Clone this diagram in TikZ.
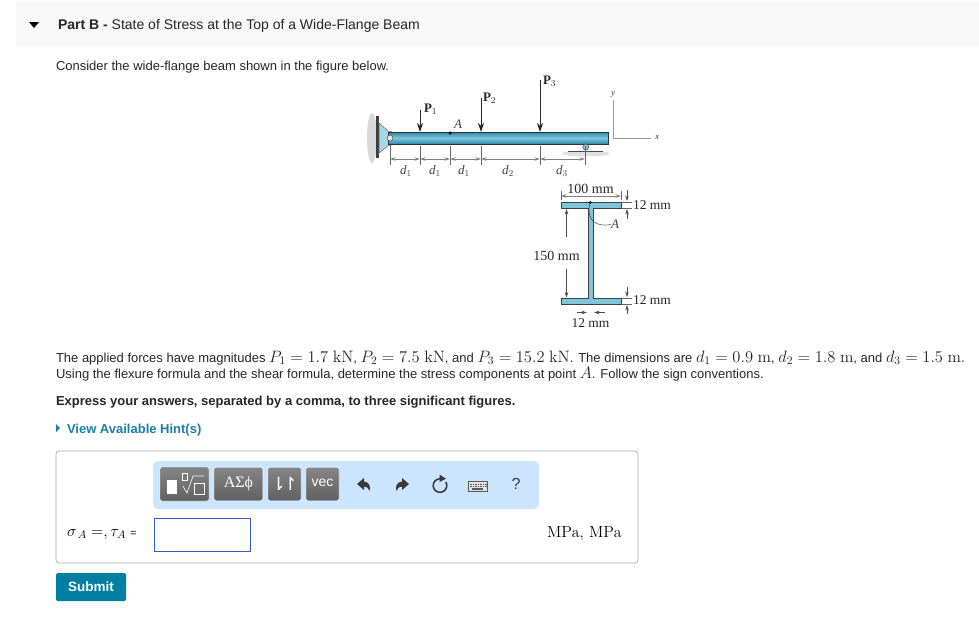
\documentclass[tikz,border=0pt]{standalone}
\usepackage{fix-cm}
\usepackage[no-math]{fontspec}
\setmainfont{Liberation Sans}
\newfontfamily\figfont{Liberation Serif}
\newfontfamily\symfont{DejaVu Sans}
\usetikzlibrary{arrows.meta}
\definecolor{bandgray}{HTML}{F8F8F8}
\definecolor{barblue}{HTML}{CCE5FF}
\definecolor{linkblue}{HTML}{1C7FA6}
\definecolor{submitblue}{HTML}{007FA3}
\definecolor{steel}{HTML}{7FC6DC}
\definecolor{darksteel}{HTML}{2888A8}
\definecolor{boxgray}{HTML}{ABABAB}
\definecolor{inkgray}{HTML}{3A3A3A}
\definecolor{inputblue}{HTML}{3B5BC8}
\newcommand{\mth}[1]{{\fontsize{16.5}{16}\selectfont$#1$}}
\begin{document}
\begin{tikzpicture}[x=1pt, y=-1pt, every node/.style = {inner sep=0pt, outer sep=0pt}, line width=0.5pt, >={Stealth[length=5.5pt,width=3.5pt]}]
	\tikzstyle{txt} = [anchor=base west, font=\fontsize{13}{15}\selectfont, text=black!85]
	\tikzstyle{fig} = [font=\figfont\fontsize{14}{16}\selectfont, text=black!85]
	\tikzstyle{figsmall} = [font=\figfont\fontsize{13.5}{16}\selectfont, text=black!85]
	\tikzstyle{figit} = [font=\figfont\itshape\fontsize{13}{15}\selectfont, text=black!75]
	\tikzstyle{bf} = [font=\figfont\bfseries\fontsize{13}{15}\selectfont, text=black!85]
	\tikzstyle{force} = [-{Stealth[length=9pt,width=6pt]}, line width=1pt, black!85]
	\tikzstyle{dim} = [<->, line width=0.7pt, black!50]
	\tikzstyle{dimend} = [->, line width=0.5pt, black!70]
	\tikzstyle{tick} = [line width=0.4pt, black!60]
	\tikzstyle{btn} = [draw=white, rounded corners=2pt, top color=black!48, bottom color=black!62, text=white, line width=0.4pt]
	\tikzstyle{icon} = [fill=inkgray, draw=none]
	\useasboundingbox (0,0) rectangle (979,616);

	% header and text
	\fill[bandgray] (16,1) rectangle (979,47);
	\fill[black] (29,22) -- (39,22) -- (34,28) -- cycle;
	\node[txt, font=\fontsize{14}{16}\selectfont] (title) at (58,29) {\textbf{Part B -} State of Stress at the Top of a Wide-Flange Beam};
	\node[txt] (intro) at (56,70) {Consider the wide-flange beam shown in the figure below.};
	\node[txt] (line1) at (56,362.5) {The applied forces have magnitudes \mth{P_1=1.7\ \mathrm{kN}}, \mth{P_2=7.5\ \mathrm{kN}}, and \mth{P_3=15.2\ \mathrm{kN}}. The dimensions are \mth{d_1=0.9\ \mathrm{m}}, \mth{d_2=1.8\ \mathrm{m}}, and \mth{d_3=1.5\ \mathrm{m}}.};
	\node[txt] (line2) at (56,378.5) {Using the flexure formula and the shear formula, determine the stress components at point \mth{A}. Follow the sign conventions.};
	\node[txt] (express) at (56,405) {\textbf{Express your answers, separated by a comma, to three significant figures.}};
	\fill[linkblue] (56,424) -- (60,428) -- (56,432) -- cycle;
	\node[txt, text=linkblue] (hints) at (67,433) {\textbf{View Available Hint(s)}};

	% beam support
	\fill[black!15] (372,138) ellipse (5 and 25);
	\fill[black!75] (376,116) rectangle (379,158);
	\fill[steel!70, draw=black!60] (379,123) -- (388,131) -- (396,133) -- (396,144) -- (388,146) -- (379,153) -- cycle;
	% beam
	\fill[black!12] (586,153.5) ellipse (24 and 3);
	\draw[black!80, line width=0.8pt, top color=darksteel, bottom color=darksteel, middle color=steel] (388,132) rectangle (608,144);
	\draw[black!70, fill=black!10] (390,138) circle (3);
	\draw[black!70, fill=steel] (585.7,147) circle (3);
	\fill[black!70] (568,150.5) rectangle (603,152);

	% loads
	\coordinate (P1top) at (420,110);
	\coordinate (P1tip) at (420,132);
	\coordinate (P2top) at (481,98);
	\coordinate (P2tip) at (481,132);
	\coordinate (P3top) at (540,80);
	\coordinate (P3tip) at (540,132);
	\draw[force] (P1top) -- (P1tip);
	\draw[force] (P2top) -- (P2tip);
	\draw[force] (P3top) -- (P3tip);
	\node[bf, anchor=west] (P1) at (424,109) {P$_{\mathrm{1}}$};
	\node[bf, anchor=west] (P2) at (483,98) {P$_{\mathrm{2}}$};
	\node[bf, anchor=west] (P3) at (543,81) {P$_{\mathrm{3}}$};
	\node[circle, fill=black, minimum size=3.5pt] (pointA) at (450,133) {};
	\node[figit] (labelA) at (458,124.5) {A};

	% axes
	\coordinate (origin) at (613,138);
	\coordinate (ytip) at (613,100);
	\coordinate (xtip) at (651,138);
	\draw[black!40] (ytip) -- (origin) -- (xtip);
	\node[figit, font=\figfont\itshape\fontsize{9}{10}\selectfont] (ylab) at (613,94) {y};
	\node[figit, font=\figfont\itshape\fontsize{9}{10}\selectfont] (xlab) at (657,137) {x};

	% beam dimensions
	\foreach \name/\x in {a/390, b/420, c/450, d/481, e/540, f/585} {
		\coordinate (\name top) at (\x,146);
		\coordinate (\name) at (\x,159);
		\coordinate (\name low) at (\x,165);
		\draw[tick] (\name top) -- (\name low);
	}
	\draw[dim] (a) -- (b);
	\draw[dim] (b) -- (c);
	\draw[dim] (c) -- (d);
	\draw[dim] (d) -- (e);
	\draw[dim] (e) -- (f);
	\node[figit] (d1a) at (406,171) {d$_{\mathrm{1}}$};
	\node[figit] (d1b) at (435,171) {d$_{\mathrm{1}}$};
	\node[figit] (d1c) at (464,171) {d$_{\mathrm{1}}$};
	\node[figit] (d2) at (508,171) {d$_{\mathrm{2}}$};
	\node[figit] (d3) at (562,171) {d$_{\mathrm{3}}$};

	% cross section
	\draw[black!75, fill=steel, line width=0.7pt] (561,202) -- (621,202) -- (621,208.5) -- (593,208.5) -- (593,298) -- (621,298) -- (621,304) -- (561,304) -- (561,298) -- (588,298) -- (588,208.5) -- (561,208.5) -- cycle;
	\node[circle, fill=black, minimum size=3pt] (sectA) at (590,202.5) {};
	\node[figit] (sectlabel) at (615,224.5) {A};
	\draw[black!75, line width=0.5pt] (sectA) .. controls (586,222) and (598,227) .. (sectlabel.west);

	\coordinate (wleft) at (561,196);
	\coordinate (wright) at (621,196);
	\draw[dim] (wleft) -- (wright);
	\draw[tick] (561,191) -- (561,200);
	\draw[tick] (621,191) -- (621,200);
	\node[fig] (w100) at (590.5,188.5) {100 mm};

	\coordinate (tfa) at (627,190);
	\coordinate (tfb) at (627,201);
	\coordinate (tfc) at (627,219);
	\coordinate (tfd) at (627,209);
	\draw[dimend] (tfa) -- (tfb);
	\draw[dimend] (tfc) -- (tfd);
	\draw[tick] (622,202) -- (632,202);
	\draw[tick] (622,208.5) -- (632,208.5);
	\node[figsmall, anchor=west] (t12a) at (633,205.5) {12 mm};

	\coordinate (bfa) at (627,287);
	\coordinate (bfb) at (627,297);
	\coordinate (bfc) at (627,314);
	\coordinate (bfd) at (627,305);
	\draw[dimend] (bfa) -- (bfb);
	\draw[dimend] (bfc) -- (bfd);
	\draw[tick] (622,298) -- (632,298);
	\draw[tick] (622,304) -- (632,304);
	\node[figsmall, anchor=west] (t12b) at (633,300.5) {12 mm};

	\coordinate (ha) at (566.5,237);
	\coordinate (hb) at (566.5,209);
	\coordinate (hc) at (566.5,269);
	\coordinate (hd) at (566.5,297.5);
	\draw[dimend] (ha) -- (hb);
	\draw[dimend] (hc) -- (hd);
	\node[fig] (h150) at (556.5,255.5) {150 mm};

	\coordinate (wa) at (577,312.5);
	\coordinate (wb) at (587,312.5);
	\coordinate (wc) at (605,312.5);
	\coordinate (wd) at (594,312.5);
	\draw[dimend] (wa) -- (wb);
	\draw[dimend] (wc) -- (wd);
	\node[figsmall] (w12) at (590.5,323.5) {12 mm};

	% answer box
	\draw[boxgray, rounded corners=3pt, line width=0.7pt] (56,451) rectangle (638,563);
	\fill[barblue, rounded corners=5pt] (153,461) rectangle (539,509);
	\draw[btn] (160,467) rectangle (209,501);
	\node[btn, draw=none, minimum width=48pt, minimum height=33pt, font=\figfont\fontsize{16}{18}\selectfont] (greek) at (238.5,484) {ΑΣϕ};
	\draw[white, line width=0.4pt, rounded corners=2pt] (214,467) rectangle (263,501);
	\node[btn, draw=none, minimum width=33pt, minimum height=33pt, font=\symfont\fontsize{18}{20}\selectfont] (updown) at (284.5,484) {⇂\kern-3.5pt↾};
	\draw[white, line width=0.4pt, rounded corners=2pt] (268,467) rectangle (301,501);
	\node[btn, draw=none, minimum width=33pt, minimum height=33pt] (vecbtn) at (322.5,484) {};
	\draw[white, line width=0.4pt, rounded corners=2pt] (306,467) rectangle (339,501);
	\node[text=white, font=\fontsize{14}{16}\selectfont] (vec) at (322.5,483) {vec};
	% template icon
	\fill[white] (167,480) rectangle (177,493.5);
	\draw[white, line width=0.5pt] (182,473) rectangle (187,480);
	\draw[white, line width=0.6pt] (183,486) -- (187,493) -- (193,476) -- (204,476);
	\draw[white, line width=0.5pt] (194,483.5) rectangle (204,494);
	% undo, redo
	\fill[icon] (357,484) -- (364,478) -- (364,481.5) .. controls (369,482) and (371,486) .. (369.5,491) .. controls (368.5,488) and (367,486.5) .. (364,486.5) -- (364,490) -- cycle;
	\fill[icon] (409,484) -- (402,478) -- (402,481.5) .. controls (397,482) and (395,486) .. (396.5,491) .. controls (397.5,488) and (399,486.5) .. (402,486.5) -- (402,490) -- cycle;
	% reload
	\coordinate (reload) at (440,485.5);
	\draw[inkgray, line width=1.6pt] (reload) ++(-30:6.8) arc[start angle=-30, end angle=270, radius=6.8];
	\fill[icon] (439.5,474.5) -- (446,478.7) -- (439.5,482) -- cycle;
	% keyboard
	\draw[black!65, fill=black!12, line width=0.7pt] (468,481) rectangle (487,491);
	\foreach \row in {483.5,486} {
		\foreach \x in {470,472.5,...,485} {
			\fill[black!65] (\x,\row) rectangle +(1.5,1.2);
		}
	}
	\fill[black!65] (472,488.3) rectangle (483,489.5);
	\node[font=\fontsize{16}{18}\selectfont, text=inkgray] (help) at (516,483.5) {?};

	\node[font=\fontsize{16}{18}\selectfont, anchor=west] (answer) at (67,534.5) {$\sigma_{\,A}\;{=},\tau_{A}$ {\fontsize{10.5}{11}\selectfont =}};
	\draw[inputblue, line width=0.7pt] (154.5,518.5) rectangle (250,551.5);
	\node[anchor=west, font=\fontsize{16}{17}\selectfont] (unit) at (547,534) {$\mathrm{MPa},\,\mathrm{MPa}$};
	\node[fill=submitblue, rounded corners=1.5pt, minimum width=70pt, minimum height=28pt, text=white, font=\fontsize{13.5}{16}\bfseries\selectfont] (submit) at (91,587) {Submit};
\end{tikzpicture}
\end{document}
